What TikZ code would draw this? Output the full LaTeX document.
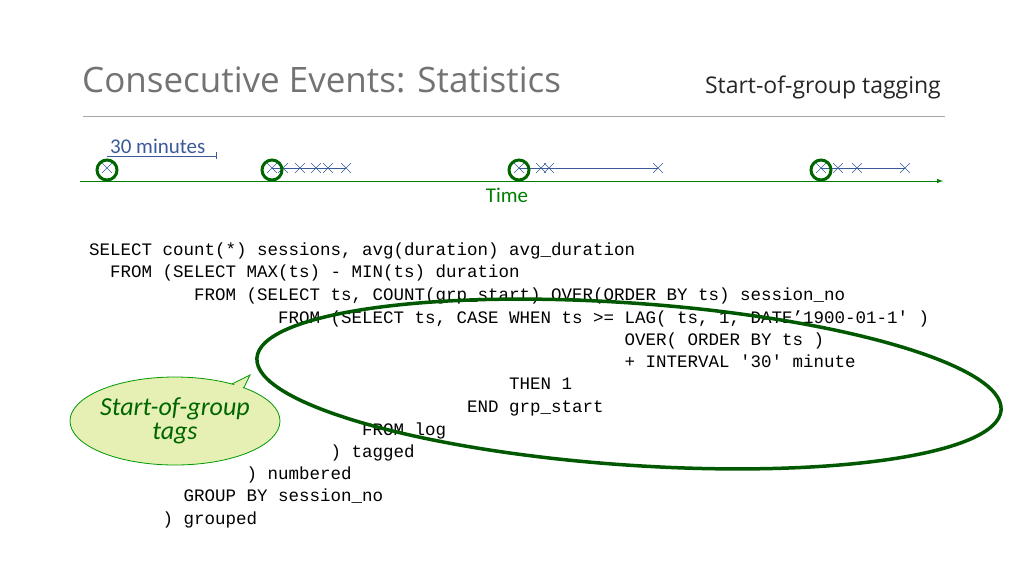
\documentclass[tikz,border=0pt]{standalone}
\usepackage{fontspec}
\usetikzlibrary{shapes.misc}
\setmainfont{Carlito}
\newfontfamily\codefont{Liberation Mono}
\newfontfamily\lightfont{Open Sans}
\definecolor{bub}{HTML}{E6EFB4}
\definecolor{tblue}{HTML}{3A5A9A}
\begin{document}
\begin{tikzpicture}[x=1pt,y=-1pt,
  code/.style={anchor=base west,inner sep=0pt,font=\codefont\fontsize{17.5}{17.5}\selectfont},
  grpcirc/.style={draw=green!40!black,line width=3pt,circle,minimum size=20pt,inner sep=0pt},
  xmark/.style={draw=tblue,cross out,minimum size=9pt,inner sep=0pt,line width=0.6pt}]
\useasboundingbox (0,0) rectangle (1024,576);
\fill[white] (0,0) rectangle (1024,576);
\node[anchor=base west,inner sep=0pt,text=black!55,font=\lightfont\fontsize{35}{35}\selectfont] (title) at (82,92) {Consecutive Events: Statistics};
\node[anchor=base east,inner sep=0pt,text=black!85,font=\lightfont\fontsize{23}{23}\selectfont] (sub) at (941,93) {Start-of-group tagging};
\draw[black!35,line width=0.8pt] (83,116) -- (945,116);
% timeline
\coordinate (t0) at (80,181); \coordinate (t1) at (943,181);
\draw[green!50!black,line width=1pt,-latex] (t0) -- (t1);
\node[text=green!50!black,font=\fontsize{21}{21}\selectfont] (time) at (507,195) {Time};
\draw[tblue,line width=0.8pt] (107,156) -- (216,156);
\draw[tblue,line width=0.8pt] (216,152) -- (216,159);
\node[anchor=base west,inner sep=0pt,text=tblue,font=\fontsize{21}{21}\selectfont] (lbl) at (110,153) {30 minutes};
\draw[tblue,line width=0.8pt] (272,168) -- (346,168) (519,168) -- (658,168) (821,168) -- (905,168);
\foreach \x [count=\i] in {107,272,283,300,316,328,346,519,541,549,658,821,838,857,905}
  \node[xmark] (x\i) at (\x,168) {};
\foreach \x [count=\i] in {107,272,519,821}
  \node[grpcirc] (g\i) at (\x,170) {};
% code
\def\cw{10.5}
\node[code] (l1) at (89,255) {SELECT count(*) sessions, avg(duration) avg\_duration};
\node[code] (l2) at (89+2*\cw,277) {FROM (SELECT MAX(ts) - MIN(ts) duration};
\node[code] (l3) at (89+10*\cw,300) {FROM (SELECT ts, COUNT(grp\_start) OVER(ORDER BY ts) session\_no};
\node[code] (l4) at (89+18*\cw,323) {FROM (SELECT ts, CASE WHEN ts >= LAG( ts, 1, DATE’1900-01-1' )};
\node[code] (l5) at (89+51*\cw,345) {OVER( ORDER BY ts )};
\node[code] (l6) at (89+51*\cw,367) {+ INTERVAL '30' minute};
\node[code] (l7) at (89+40*\cw,389) {THEN 1};
\node[code] (l8) at (89+36*\cw,412) {END grp\_start};
\node[code] (l9) at (89+26*\cw,435) {FROM log};
\node[code] (l10) at (89+23*\cw,457) {) tagged};
\node[code] (l11) at (89+15*\cw,479) {) numbered};
\node[code] (l12) at (89+9*\cw,501) {GROUP BY session\_no};
\node[code] (l13) at (89+7*\cw,524) {) grouped};
% big ellipse
\draw[green!35!black,line width=3.5pt,rotate around={-4:(629,384)}] (629,384) ellipse [x radius=373,y radius=81];
% callout
\filldraw[fill=bub,draw=green!60!black,line width=0.8pt] (216,392) -- (250,375) -- (238,400) -- cycle;
\filldraw[fill=bub,draw=green!60!black,line width=0.8pt] (175,421) ellipse [x radius=105,y radius=44];
\fill[bub] (214,395) -- (247,378) -- (236,402) -- cycle;
\node[align=center,text=green!40!black,font=\itshape\fontsize{26}{24}\selectfont] (tag) at (175,421) {Start-of-group\\tags};
\end{tikzpicture}
\end{document}
